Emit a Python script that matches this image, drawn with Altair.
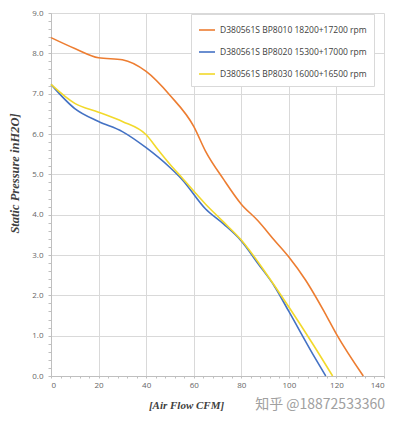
import altair as alt
import pandas as pd

series_names = [
    "D380561S BP8010 18200+17200 rpm",
    "D380561S BP8020 15300+17000 rpm",
    "D380561S BP8030 16000+16500 rpm",
]
colors = ["#ED7D31", "#4472C4", "#F2D92B"]

orange_x = [0, 10, 20, 30, 40, 50, 60, 65, 72.5, 80, 87, 94, 100, 107, 115, 120, 131.3]
orange_y = [8.39, 8.12, 7.89, 7.84, 7.55, 6.96, 6.19, 5.57, 4.88, 4.26, 3.85, 3.36, 2.95, 2.38, 1.58, 1.04, 0.0]

blue_x = [0, 10, 20, 30, 40, 50, 55, 65, 72.5, 80, 87, 94, 100, 110, 115.5]
blue_y = [7.23, 6.63, 6.31, 6.06, 5.66, 5.17, 4.88, 4.14, 3.77, 3.35, 2.79, 2.22, 1.60, 0.55, 0.0]

yellow_x = [0, 10, 20, 30, 40, 45, 50, 55, 65, 72.5, 80, 90, 100, 110, 118.4]
yellow_y = [7.23, 6.76, 6.54, 6.31, 5.98, 5.61, 5.25, 4.92, 4.26, 3.82, 3.37, 2.58, 1.71, 0.80, 0.0]

# axis ticks: major every 20 (x) / 1.0 (y), minor every 4 (x) / 0.2 (y)
x_ticks = [0, 4, 8, 12, 16, 20, 24, 28, 32, 36, 40, 44, 48, 52, 56, 60, 64, 68, 72, 76,
           80, 84, 88, 92, 96, 100, 104, 108, 112, 116, 120, 124, 128, 132, 136, 140]
y_ticks = [0.0, 0.2, 0.4, 0.6, 0.8, 1.0, 1.2, 1.4, 1.6, 1.8, 2.0, 2.2, 2.4, 2.6, 2.8,
           3.0, 3.2, 3.4, 3.6, 3.8, 4.0, 4.2, 4.4, 4.6, 4.8, 5.0, 5.2, 5.4, 5.6, 5.8,
           6.0, 6.2, 6.4, 6.6, 6.8, 7.0, 7.2, 7.4, 7.6, 7.8, 8.0, 8.2, 8.4, 8.6, 8.8, 9.0]

frames = []
for name, xs, ys in zip(series_names, [orange_x, blue_x, yellow_x], [orange_y, blue_y, yellow_y]):
    frames.append(pd.DataFrame({"flow": xs, "pressure": ys, "series": name}))
df = pd.concat(frames, ignore_index=True)

label_font = "Open Sans"
title_font = "Liberation Serif"

x_major = "abs(datum.value / 20 - round(datum.value / 20)) < 0.001"
y_major = "abs(datum.value - round(datum.value)) < 0.001"

chart = (
    alt.Chart(df)
    .mark_line(interpolate="monotone", strokeWidth=1.6)
    .encode(
        x=alt.X(
            "flow:Q",
            scale=alt.Scale(domain=[0, 140], nice=False),
            axis=alt.Axis(
                values=x_ticks,
                labelExpr=f"{x_major} ? format(datum.value, 'd') : ''",
                labelOverlap=False,
                title="[Air Flow CFM]",
                titleFont=title_font,
                titleFontStyle="italic",
                titleFontWeight="bold",
                titleFontSize=11,
                titleColor="#404040",
                titlePadding=10,
                titleX=135,
                labelFont=label_font,
                labelFontSize=8,
                labelColor="#666666",
                labelPadding=3,
                tickSize=2,
                tickColor="#BFBFBF",
                domainColor="#BFBFBF",
                gridColor="#D9D9D9",
                gridOpacity={"condition": {"test": x_major, "value": 1}, "value": 0},
            ),
        ),
        y=alt.Y(
            "pressure:Q",
            scale=alt.Scale(domain=[0, 9], nice=False),
            axis=alt.Axis(
                values=y_ticks,
                labelExpr=f"{y_major} ? format(datum.value, '.1f') : ''",
                labelOverlap=False,
                title="Static Pressure inH2O]",
                titleFont=title_font,
                titleFontStyle="italic",
                titleFontWeight="bold",
                titleFontSize=12.5,
                titleColor="#404040",
                titlePadding=10,
                titleY=160,
                labelFont=label_font,
                labelFontSize=8,
                labelColor="#666666",
                labelPadding=5,
                tickSize=3,
                tickColor="#BFBFBF",
                domainColor="#BFBFBF",
                gridColor="#D9D9D9",
                gridOpacity={"condition": {"test": y_major, "value": 1}, "value": 0},
            ),
        ),
        color=alt.Color(
            "series:N",
            scale=alt.Scale(domain=series_names, range=colors),
            legend=alt.Legend(
                title=None,
                orient="none",
                legendX=140,
                legendY=1,
                symbolType="stroke",
                symbolSize=256,
                symbolStrokeWidth=1.6,
                labelFont=label_font,
                labelFontSize=8.5,
                labelColor="#404040",
                labelOffset=4,
                rowPadding=8,
                padding=7,
                fillColor="white",
                strokeColor="#D9D9D9",
                labelLimit=300,
            ),
        ),
    )
    .properties(
        width=377,
        height=404,
        autosize=alt.AutoSizeParams(type="fit", contains="padding"),
        padding={"left": 0, "top": 1, "right": 0, "bottom": 0},
        title=alt.TitleParams(
            "知乎 @18872533360",
            orient="bottom",
            anchor="end",
            frame="group",
            font="Noto Sans CJK SC",
            fontSize=14,
            fontWeight="normal",
            color="#A0A0A0",
            offset=-12,
            dx=1,
        ),
    )
    .configure_view(stroke=None)
)

chart.save("out.html", embed_options={"renderer": "svg", "actions": False})
